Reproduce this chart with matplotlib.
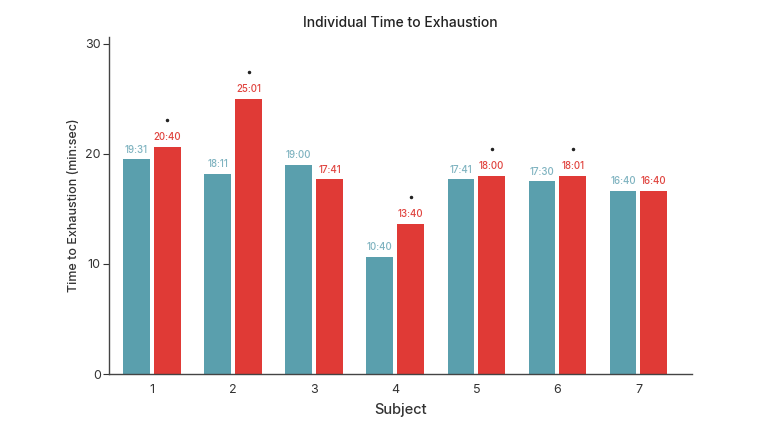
import numpy as np
import matplotlib
matplotlib.use('Agg')
import matplotlib.pyplot as plt

plt.rcParams['font.family'] = ['Inter', 'DejaVu Sans']

subjects = ['1', '2', '3', '4', '5', '6', '7']
pre_labels = ['19:31', '18:11', '19:00', '10:40', '17:41', '17:30', '16:40']
post_labels = ['20:40', '25:01', '17:41', '13:40', '18:00', '18:01', '16:40']
marked = [True, True, False, True, True, True, False]

def to_min(s):
    m, sec = s.split(':')
    return int(m) + int(sec) / 60.0

pre = [to_min(s) for s in pre_labels]
post = [to_min(s) for s in post_labels]

teal = '#5a9fad'
red = '#e03a36'
teal_txt = '#7fb3c0'
red_txt = '#e0443f'
grey = '#333333'

fig = plt.figure(figsize=(7.68, 4.32), dpi=100)
ax = fig.add_axes([0.142, 0.134, 0.759, 0.78])

x = np.arange(len(subjects))
w = 0.33
off = 0.19
ax.bar(x - off, pre, w, color=teal)
ax.bar(x + off, post, w, color=red)

for i in range(len(subjects)):
    ax.text(x[i] - off, pre[i] + 0.4, pre_labels[i], ha='center', va='bottom',
            fontsize=7, color=teal_txt, fontweight='medium')
    ax.text(x[i] + off, post[i] + 0.4, post_labels[i], ha='center', va='bottom',
            fontsize=7, color=red_txt, fontweight='medium')
    if marked[i]:
        ax.plot(x[i] + off, post[i] + 2.4, 'o', color='#222222', markersize=1.5)

ax.set_xlim(-0.53, 6.66)
ax.set_ylim(0, 30.6)
ax.set_xticks(x)
ax.set_xticklabels(subjects)
ax.set_yticks([0, 10, 20, 30])
ax.tick_params(axis='x', length=0, pad=7, labelsize=9, colors=grey)
ax.tick_params(axis='y', length=4, width=0.8, pad=2, labelsize=9, colors=grey)
for s in ['top', 'right']:
    ax.spines[s].set_visible(False)
for s in ['left', 'bottom']:
    ax.spines[s].set_color('#444444')
    ax.spines[s].set_linewidth(1.0)

ax.set_xlabel('Subject', fontsize=10.5, color=grey, labelpad=5, fontweight='medium')
ax.set_ylabel('Time to Exhaustion (min:sec)', fontsize=9, color=grey, labelpad=4,
              fontweight='medium')
ax.set_title('Individual Time to Exhaustion', fontsize=10, color='#222222', pad=7,
             fontweight='medium')

fig.savefig('out.png', dpi=100)
